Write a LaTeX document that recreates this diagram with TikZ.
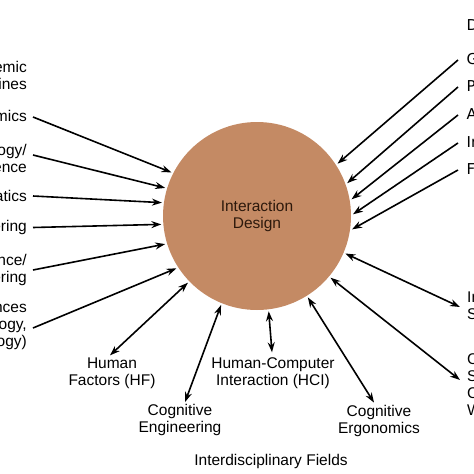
\documentclass[tikz,border=0pt]{standalone}
\usepackage{fontspec}
\setmainfont{Liberation Sans}
\newfontfamily\dejavu{DejaVu Sans}
\usetikzlibrary{arrows.meta}
\definecolor{disc}{RGB}{196,138,100}
\definecolor{disctext}{RGB}{45,25,12}
\begin{document}
\begin{tikzpicture}[x=1pt,y=-1pt,
  lbl/.style={font=\fontsize{15.5}{17}\selectfont, inner sep=0pt, align=center},
  lft/.style={lbl, align=right, anchor=east, inner xsep=6pt},
  rgt/.style={font=\dejavu\fontsize{15}{17}\selectfont, anchor=west, inner xsep=8.5pt, inner ysep=0pt},
  rgt2/.style={lbl, align=left, anchor=west, inner xsep=7pt},
  bot/.style={lbl, inner ysep=2pt},
  tip/.tip={Stealth[length=10pt,width=7pt]},
  arr/.style={-tip, line width=1.6pt},
  barr/.style={tip-tip, line width=1.6pt}]
\useasboundingbox (0,0) rectangle (474,474);
\clip (0,0) rectangle (474,474);
% central disc
\node[circle, fill=disc, minimum size=188pt, inner sep=0pt, outer sep=2pt,
      text=disctext, font=\fontsize{15.5}{17}\selectfont, align=center]
      (c) at (257,216) {Interaction\\Design};
% academic disciplines (left)
\node[lft] (acad) at (33,76.5) {Academic\\Disciplines};
\node[lft] (ergo) at (33,117) {Ergonomics};
\node[lft] (psy) at (33,159.5) {Psychology/\\Cognitive Science};
\node[lft] (inf) at (33,196) {Informatics};
\node[lft] (eng) at (33,227.5) {Engineering};
\node[lft] (cs) at (33,270) {Computer Science/\\Software Engineering};
\node[lft] (soc) at (33,325) {Social Sciences\\(e.g., Sociology,\\Anthropology)};
\draw[arr] (ergo.east) -- (c.153.7);
\draw[arr] ([yshift=4.5pt]psy.east) -- (c.163.6);
\draw[arr] (inf.east) -- (c.172.8);
\draw[arr] (eng.east) -- (c.185.5);
\draw[arr] (cs.east) -- (c.197.9);
\draw[arr] ([yshift=-3pt]soc.east) -- (c.213);
% design practices (right)
\node[rgt] (dp) at (458,26) {Design Practices};
\node[rgt] (gd) at (458,60) {Graphic Design};
\node[rgt] (pd) at (458,87) {Product Design};
\node[rgt] (ad) at (458,115) {Artist-Design};
\node[rgt] (ind) at (458,143) {Industrial Design};
\node[rgt] (fi) at (458,170) {Film Industry};
\draw[arr] (gd.west) -- (c.33.5);
\draw[arr] (pd.west) -- (c.20.7);
\draw[arr] (ad.west) -- (c.10.7);
\draw[arr] (ind.west) -- (c.1.8);
\draw[arr] (fi.west) -- (c.352.9);
% other fields (right bottom)
\node[rgt2] (is) at (460,307) {Information\\Systems};
\node[rgt2] (cscw) at (460,385) {Computer\\Supported\\Cooperative\\Work};
\draw[barr] (c.337.2) -- (is.west);
\draw[barr] (c.320.9) -- ([yshift=5pt]cscw.west);
% interdisciplinary fields (bottom)
\node[bot] (hf) at (112,373) {Human\\Factors (HF)};
\node[bot] (ce) at (180,420) {Cognitive\\Engineering};
\node[bot] (hci) at (273,373) {Human-Computer\\Interaction (HCI)};
\node[bot] (cerg) at (379,420.5) {Cognitive\\Ergonomics};
\node[lbl] (idf) at (271,461) {Interdisciplinary Fields};
\draw[barr] (c.224.6) -- ([xshift=-2pt]hf.north);
\draw[barr] (c.248.5) -- ([xshift=5pt]ce.north);
\draw[barr] (c.277) -- ([xshift=-1pt,yshift=3pt]hci.north);
\draw[barr] (c.302.2) -- ([xshift=-5pt]cerg.north);
\end{tikzpicture}
\end{document}
